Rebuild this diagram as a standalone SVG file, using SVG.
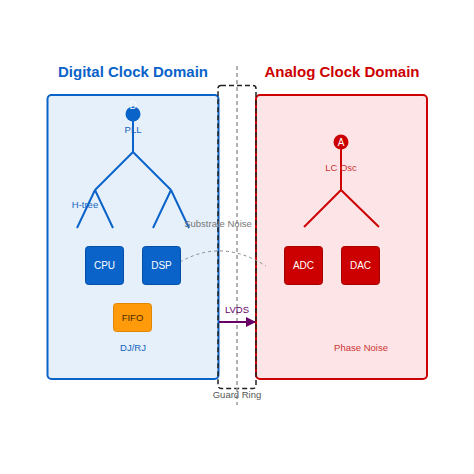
<svg xmlns="http://www.w3.org/2000/svg" width="474" height="474" viewBox="0 0 474 474">
<defs>
<marker id="arr" viewBox="0 0 10 10" refX="9" refY="5" markerWidth="5" markerHeight="5" orient="auto"><path d="M0,0 L10,5 L0,10 z" fill="#660066"/></marker>
<style>
text{font-family:"Liberation Sans",Arial,sans-serif;text-anchor:middle}
.title{font-size:15px;font-weight:bold}
.lbl{font-size:9.5px}
.blu{fill:#1565c0}
.red{fill:#cc0000}
.tb{stroke:#0a63c9;stroke-width:2;fill:none}
.tr{stroke:#cc0000;stroke-width:2;fill:none}
.chipb{fill:#0a63c9;stroke:#0550a6;stroke-width:1}
.chipr{fill:#cc0000;stroke:#a30000;stroke-width:1}
.wt{fill:#ffffff;font-size:10px}
</style>
</defs>
<rect width="474" height="474" fill="#ffffff"/>
<g id="titles">
<text class="title" x="133" y="77" fill="#0a63c9">Digital Clock Domain</text>
<text class="title" x="342" y="77" fill="#cc0000">Analog Clock Domain</text>
</g>
<g id="digital-domain">
<rect x="47.5" y="95" width="171" height="284" rx="4" fill="#e6f0fb" stroke="#0a63c9" stroke-width="2"/>
</g>
<g id="analog-domain">
<rect x="256" y="95" width="171" height="284" rx="4" fill="#fde5e7" stroke="#cc0000" stroke-width="2"/>
</g>
<g id="guard-ring">
<rect x="218" y="85.5" width="38" height="303" rx="3" fill="none" stroke="#222222" stroke-width="1.5" stroke-dasharray="5,3"/>
<line x1="237" y1="66" x2="237" y2="405" stroke="#999999" stroke-width="1.5" stroke-dasharray="4,3"/>
<text x="237" y="398" class="lbl" fill="#555555">Guard Ring</text>
</g>
<g id="connectors">
<path class="tb" d="M133,120 V152 M133,152 L95,190 M133,152 L171,190 M95,190 L77,228 M95,190 L113,228 M171,190 L153,228 M171,190 L189,228"/>
<path class="tr" d="M341,149 V190 M341,190 L304,227 M341,190 L379,227"/>
<path d="M180,262 Q222,238 266,266" fill="none" stroke="#888888" stroke-width="1" stroke-dasharray="3,3"/>
<line x1="219" y1="322" x2="255" y2="322" stroke="#660066" stroke-width="2" marker-end="url(#arr)"/>
</g>
<g id="pll">
<circle cx="133" cy="114" r="7.5" fill="#0a63c9"/>
<text x="133" y="109" class="wt" font-size="9">D</text>
<text x="133" y="133" class="lbl blu">PLL</text>
</g>
<g id="htree-label"><text x="85" y="208" class="lbl blu">H-tree</text></g>
<g id="lc-osc">
<circle cx="341" cy="142" r="7.5" fill="#cc0000"/>
<text x="341" y="146" class="wt">A</text>
<text x="341" y="171" class="lbl" fill="#cc3333">LC Osc</text>
</g>
<g id="cpu"><rect class="chipb" x="85.5" y="246.5" width="38" height="38" rx="3"/><text x="104.5" y="269" class="wt" font-size="9.5">CPU</text></g>
<g id="dsp"><rect class="chipb" x="142.5" y="246.5" width="38" height="38" rx="3"/><text x="161.5" y="269" class="wt" font-size="9.5">DSP</text></g>
<g id="fifo"><rect x="113.5" y="303.5" width="38" height="28" rx="3" fill="#ff9a0a" stroke="#e08600" stroke-width="1"/><text x="132.5" y="321" font-size="9.5" fill="#4a2a00">FIFO</text></g>
<g id="djrj"><text x="133" y="351" class="lbl blu">DJ/RJ</text></g>
<g id="adc"><rect class="chipr" x="284.5" y="246.5" width="38" height="38" rx="3"/><text x="303.5" y="269" class="wt" font-size="9.5">ADC</text></g>
<g id="dac"><rect class="chipr" x="341.5" y="246.5" width="38" height="38" rx="3"/><text x="360.5" y="269" class="wt" font-size="9.5">DAC</text></g>
<g id="labels">
<text x="218" y="227" class="lbl" fill="#777777">Substrate Noise</text>
<text x="237" y="313" class="lbl" fill="#660066">LVDS</text>
<text x="361" y="351" class="lbl" fill="#cc3333">Phase Noise</text>
</g>
</svg>
